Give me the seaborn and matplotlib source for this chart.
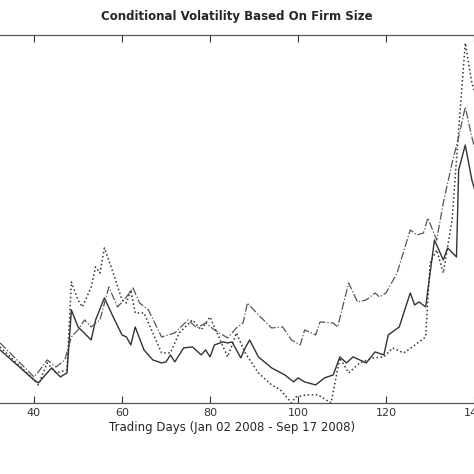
import matplotlib
matplotlib.use('Agg')
import matplotlib.pyplot as plt
import seaborn as sns

# Values (arbitrary volatility units)
solid_days = [32.3, 40, 41, 44, 46, 47.5, 48.5, 50, 53, 54, 56, 58, 60, 61, 62, 63, 65, 67, 69, 70, 71, 72,
              74, 76, 78, 79, 80, 81, 83, 84, 85, 87, 88, 89, 91, 94, 97, 99, 100, 101.5, 104, 106, 108,
              109.5, 111, 112.5, 115.5, 117.5, 119.5, 120.5, 123, 125.5, 126.5, 127.5, 129, 129.5, 131,
              133, 134, 136, 136.5, 138, 139.5, 141]
solid_vals = [53, 23, 20, 35, 26, 30, 93, 76, 63, 83, 105, 86, 68, 66, 58, 76, 53, 43, 40, 41, 48, 41,
              55, 56, 48, 53, 46, 58, 61, 60, 61, 45, 55, 63, 46, 35, 28, 21, 25, 21, 18, 25, 28,
              46, 40, 46, 40, 51, 48, 68, 76, 110, 98, 101, 96, 113, 163,
              143, 155, 146, 233, 258, 223, 200]

dashdot_days = [32.3, 40, 41, 43, 45, 47, 48.5, 50, 51.5, 53, 55, 57, 59, 61, 62.5, 64, 66, 69, 72, 75, 77,
                79, 81, 84, 86, 87.5, 88.5, 91, 94, 96.5, 98.5, 100.5, 101.5, 104, 105, 108, 109, 111.5,
                113.5, 115.5, 117.5, 118.5, 120, 122.5, 125.5, 127, 128.5, 129.5, 131.5, 133, 135, 136.5,
                138, 139.5, 141]
dashdot_vals = [60, 26, 31, 43, 36, 43, 66, 73, 83, 76, 83, 116, 96, 106, 115, 100, 93, 66, 70, 83, 75,
                80, 73, 65, 75, 80, 100, 88, 75, 76, 63, 58, 73, 68, 81, 80, 76, 120,
                101, 103, 110, 106, 110, 130, 173, 168, 170, 185, 163, 200, 240, 266,
                296, 266, 240]

dotted_days = [32.3, 40, 41, 43, 45, 47.5, 48.5, 50, 51, 53, 54, 55, 56, 58, 60, 61, 62, 63, 65, 67, 69, 71,
               73, 76, 78, 80, 82, 84, 86, 88, 91, 94, 96, 98.5, 99.5, 102, 104.5, 107.5, 109.5, 111.5,
               114, 117, 119.5, 121.5, 124, 126, 129, 130, 131.5, 133, 135, 136.5, 138, 139.5, 141]
dotted_vals = [56, 23, 18, 40, 30, 33, 121, 103, 96, 116, 136, 130, 155, 130, 103, 100, 113, 90, 90, 70, 50, 50,
               70, 83, 73, 86, 66, 46, 70, 50, 30, 18, 13, 0, 6, 8, 8, 0, 45, 30,
               40, 45, 46, 55, 50, 56, 66, 140, 153, 130, 183, 273, 360, 320, 300]

sns.set_style('white')

fig = plt.figure(figsize=(4.74, 4.74), dpi=100)
# axes wider than the figure: the reference is a crop of a larger plot
ax = fig.add_axes([-0.114, 0.150, 1.207, 0.776])

sns.lineplot(x=solid_days, y=solid_vals, ax=ax, color='#333333', linewidth=1.0, linestyle='-')
sns.lineplot(x=dashdot_days, y=dashdot_vals, ax=ax, color='#555555', linewidth=0.9, linestyle='-.')
sns.lineplot(x=dotted_days, y=dotted_vals, ax=ax, color='#333333', linewidth=1.1, linestyle=':')

ax.set_xlim(20, 150)
ax.set_ylim(0, 368)
ax.set_xticks([20, 40, 60, 80, 100, 120, 140])
ax.set_yticks([])
ax.tick_params(axis='x', direction='in', length=5, top=True, bottom=True, labelsize=8, colors='#333333')
for s in ax.spines.values():
    s.set_color('#555555')
    s.set_linewidth(0.9)

ax.set_xlabel('Trading Days (Jan 02 2008 - Sep 17 2008)', fontsize=8.5, labelpad=2)
fig.text(0.5, 0.965, 'Conditional Volatility Based On Firm Size', ha='center', va='center',
         fontsize=8.5, fontweight='bold')

fig.savefig('out.png', dpi=100)
